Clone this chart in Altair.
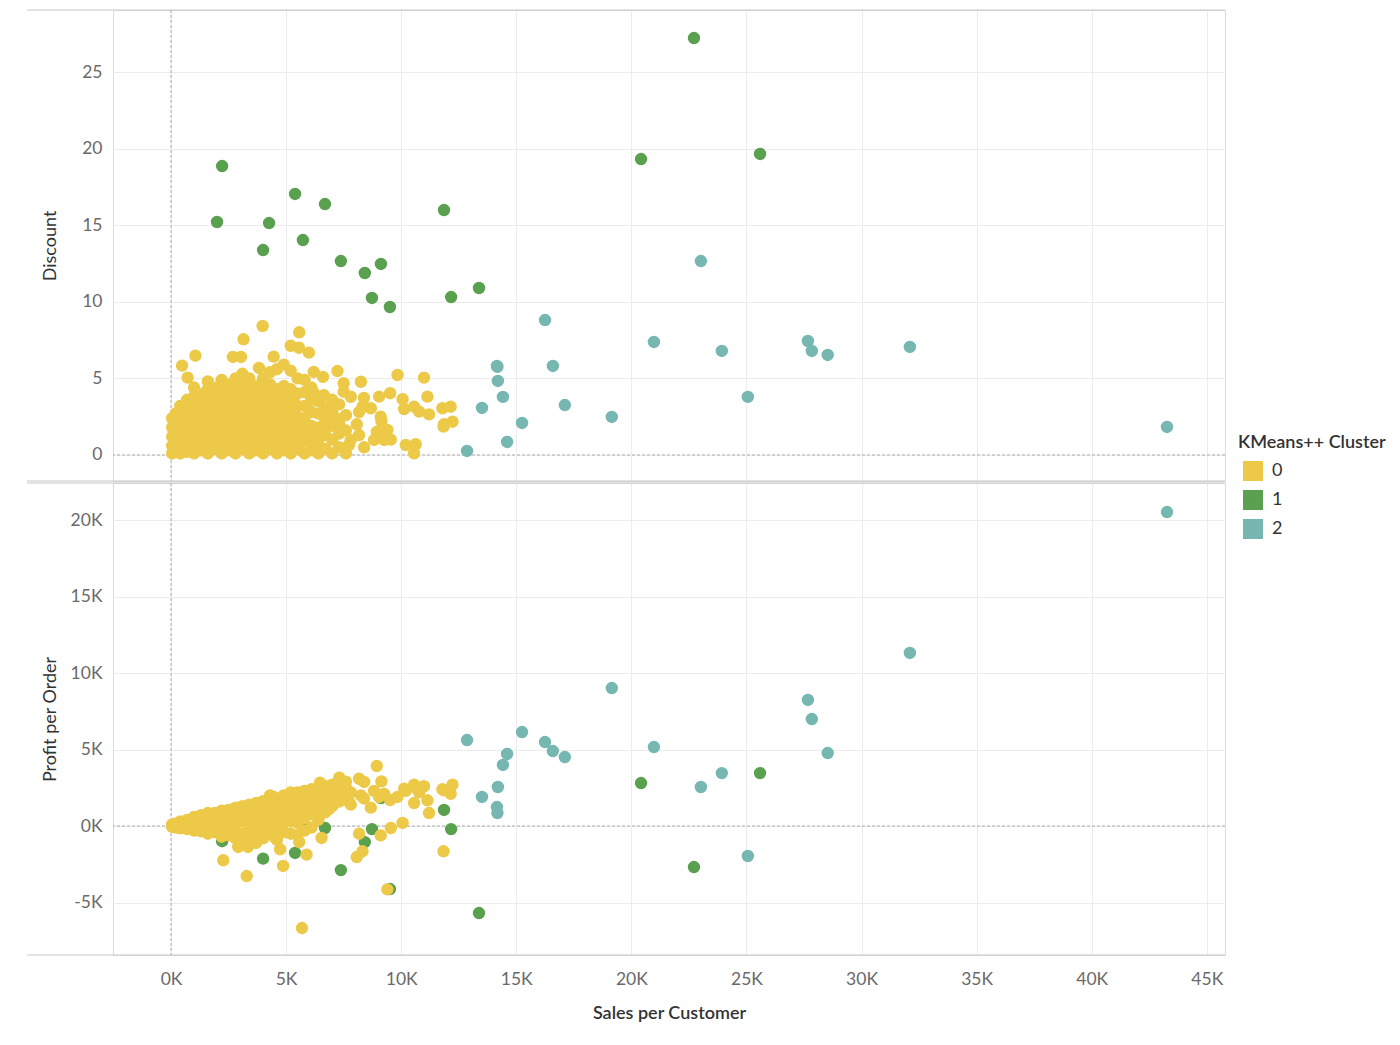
import altair as alt
import pandas as pd

# ---------------- data (Sales per Customer in K, Discount, Profit per Order in K) -------------
# Cluster 0 (yellow)
c0_sales = [
    0.05, 0.05, 0.05, 0.05, 0.05,
    0.2, 0.2, 0.2, 0.2, 0.2,
    0.4, 0.4, 0.4, 0.4, 0.4, 0.4,
    0.48, 0.72,
    0.7, 0.7, 0.7, 0.7, 0.7, 0.7,
    1.0, 1.0, 1.0, 1.0, 1.0, 1.0, 1.0, 1.0,
    1.06,
    1.3, 1.3, 1.3, 1.3, 1.3, 1.3,
    1.6, 1.6, 1.6, 1.6, 1.6, 1.6, 1.6, 1.6,
    1.9, 1.9, 1.9, 1.9, 1.9, 1.9,
    2.2, 2.2, 2.2, 2.2, 2.2, 2.2, 2.2, 2.2,
    2.5, 2.5, 2.5, 2.5, 2.5, 2.5, 2.5,
    2.69, 3.04, 3.15,
    2.8, 2.8, 2.8, 2.8, 2.8, 2.8, 2.8, 2.8,
    3.1, 3.1, 3.1, 3.1, 3.1, 3.1, 3.1, 3.1,
    3.4, 3.4, 3.4, 3.4, 3.4, 3.4, 3.4, 3.4,
    3.7, 3.7, 3.7, 3.7, 3.7, 3.7, 3.7,
    3.82, 3.98,
    4.0, 4.0, 4.0, 4.0, 4.0, 4.0, 4.0, 4.0,
    4.3, 4.3, 4.3, 4.3, 4.3, 4.3, 4.3, 4.3,
    4.46,
    4.6, 4.6, 4.6, 4.6, 4.6, 4.6, 4.6, 4.6,
    4.9, 4.9, 4.9, 4.9, 4.9, 4.9, 4.9, 4.9,
    5.2, 5.2, 5.2, 5.2, 5.2, 5.2, 5.2, 5.2, 5.2,
    5.5, 5.5, 5.5, 5.5, 5.5, 5.5, 5.5,
    5.56, 5.57,
    5.8, 5.8, 5.8, 5.8, 5.8, 5.8, 5.8,
    5.99,
    6.1, 6.1, 6.1, 6.1, 6.1, 6.1,
    6.2, 6.2,
    6.4, 6.4, 6.4, 6.4, 6.4,
    6.6, 6.64, 6.86,
    6.7, 6.7, 6.7, 6.7,
    7.0, 7.0, 7.0, 7.0, 7.0,
    7.08, 7.23,
    7.3, 7.3, 7.3, 7.3,
    7.5, 7.5,
    7.6, 7.6, 7.6,
    2.27, 2.92, 3.29, 3.34, 4.49, 4.74, 4.87, 5.57, 5.69, 5.89, 6.47, 6.54, 7.31,
    7.73, 7.81, 7.81, 8.07, 8.17, 8.17, 8.25, 8.32, 8.38, 8.39, 8.68, 8.82, 8.94,
    9.04, 9.11, 9.14, 9.26, 9.4, 9.52, 9.55, 9.84, 10.06, 10.13, 10.2, 10.56, 10.56,
    10.63, 10.78, 10.99, 11.14, 11.21, 11.79, 11.84, 11.86, 12.15, 12.23,
    0.55, 0.85, 1.15, 1.45, 1.75, 2.05, 2.35, 2.65, 2.95, 3.25, 3.55, 3.85, 4.15, 4.45,
    0.55, 0.85, 1.15, 1.45, 1.75, 2.05, 2.35, 2.65, 2.95, 3.25, 3.55, 3.85, 4.15, 4.45,
    4.75, 5.05, 5.35, 5.65, 5.95, 6.25,
]
c0_discount = [
    0.1, 0.6, 1.2, 1.8, 2.4,
    0.3, 0.9, 1.5, 2.1, 2.7,
    0.1, 0.8, 1.4, 2.0, 2.6, 3.2,
    5.83, 5.05,
    0.2, 0.9, 1.6, 2.3, 3.0, 3.6,
    0.1, 0.7, 1.3, 1.9, 2.5, 3.1, 3.8, 4.4,
    6.48,
    0.3, 1.0, 1.7, 2.4, 3.0, 3.7,
    0.1, 0.8, 1.5, 2.2, 2.9, 3.6, 4.3, 4.8,
    0.4, 1.1, 1.8, 2.5, 3.2, 3.9,
    0.1, 0.7, 1.4, 2.1, 2.8, 3.5, 4.2, 4.9,
    0.3, 1.0, 1.7, 2.4, 3.1, 3.8, 4.5,
    6.4, 6.4, 7.55,
    0.1, 0.8, 1.5, 2.2, 2.9, 3.6, 4.3, 5.0,
    0.4, 1.1, 1.8, 2.5, 3.2, 3.9, 4.6, 5.3,
    0.1, 0.8, 1.5, 2.2, 2.9, 3.6, 4.3, 5.0,
    0.3, 1.0, 1.7, 2.4, 3.1, 3.8, 4.5,
    5.68, 8.42,
    0.1, 0.8, 1.5, 2.2, 2.9, 3.6, 4.3, 5.0,
    0.4, 1.1, 1.8, 2.5, 3.2, 3.9, 4.6, 5.4,
    6.42,
    0.1, 0.8, 1.5, 2.2, 2.9, 3.6, 4.3, 5.6,
    0.3, 1.0, 1.7, 2.4, 3.1, 3.8, 4.5, 5.9,
    0.1, 0.8, 1.5, 2.2, 2.9, 3.6, 4.3, 5.5, 7.13,
    0.4, 1.1, 1.8, 2.5, 3.2, 4.0, 5.0,
    7.0, 8.01,
    0.1, 0.9, 1.6, 2.4, 3.2, 4.1, 4.9,
    6.68,
    0.3, 1.1, 1.9, 2.8, 3.6, 4.4,
    5.42, 4.05,
    0.1, 0.9, 1.8, 2.7, 3.5,
    5.1, 3.9, 2.41,
    0.4, 1.3, 2.2, 3.1,
    0.1, 1.0, 1.9, 2.9, 3.6,
    2.5, 5.48,
    0.5, 1.4, 2.3, 3.3,
    4.68, 4.13,
    0.1, 1.6, 2.6,
    1.4, 3.0, 0.8, 1.2, 2.5, 0.5, 2.0, 0.7, 1.2, 1.0, 1.5, 1.8, 2.0,
    0.65, 0.98, 3.8, 2.0, 1.3, 2.8, 4.78, 3.15, 3.72, 0.5, 3.05, 0.98, 1.5,
    3.81, 2.5, 2.2, 0.98, 1.63, 4.03, 1.0, 5.22, 3.64, 3.0, 0.65, 3.15, 0.11,
    0.7, 2.83, 5.05, 3.81, 2.65, 3.05, 1.85, 2.0, 3.15, 2.17,
    0.55, 1.25, 0.45, 1.95, 0.65, 2.65, 1.05, 3.35, 0.75, 1.85, 2.95, 0.55, 3.95, 1.45,
    2.05, 3.35, 2.75, 4.05, 2.35, 4.45, 3.75, 4.65, 4.15, 4.75, 0.65, 2.75, 1.25, 3.05,
    1.85, 2.65, 3.85, 2.25, 1.35, 0.55,
]
c0_profit = [
    0.0, 0.05, -0.05, 0.1, 0.0,
    0.1, 0.0, 0.15, -0.1, 0.05,
    0.2, 0.05, 0.25, -0.15, 0.1, 0.3,
    0.1, 0.25,
    0.3, -0.1, 0.4, 0.15, -0.2, 0.2,
    0.35, -0.2, 0.5, 0.1, 0.6, -0.3, 0.25, 0.45,
    0.3,
    0.55, 0.0, 0.7, -0.35, 0.3, 0.6,
    0.65, -0.25, 0.3, 0.75, 0.1, -0.5, 0.5, 0.85,
    0.7, 0.2, -0.4, 0.85, 0.45, 0.0,
    0.8, -0.5, 0.35, 0.9, 0.1, -0.7, 0.6, 1.0,
    0.95, 0.3, -0.6, 0.7, -0.2, 1.05, 0.5,
    0.8, 1.0, 0.7,
    1.1, -0.8, 0.4, 0.9, -0.3, 0.6, 1.2, 0.2,
    1.2, -0.5, 0.7, -1.0, 0.3, 1.0, 0.5, 1.3,
    0.9, 1.35, -0.9, 0.4, 1.1, -0.2, 0.7, 1.4,
    1.5, 0.6, -0.6, 1.2, 0.2, 0.9, -1.1,
    1.3, 1.6,
    1.6, 0.3, 1.1, -0.8, 0.8, 1.4, -0.3, 0.5,
    1.75, 0.9, -0.5, 1.3, 0.1, 1.6, 2.0, 0.6,
    1.9,
    1.4, -0.2, 1.8, 0.7, -0.9, 1.1, 0.3, 1.7,
    1.9, 0.5, 1.3, -0.4, 1.6, 0.9, 2.0, 0.2,
    2.1, 0.8, -0.5, 1.5, 0.3, 1.8, 1.1, 2.2, 1.2,
    1.7, 1.0, 2.2, 0.2, 1.4, -0.6, 0.7,
    1.5, 1.7,
    2.3, 1.2, 0.5, 1.8, -0.3, 1.5, 2.0,
    1.6,
    1.6, 2.4, 0.8, 1.9, -0.1, 1.2,
    2.0, 1.4,
    2.5, 1.0, 2.1, 0.4, 1.7,
    1.8, 2.3, 1.1,
    2.2, 1.5, 2.6, 0.9,
    2.0, 2.7, 1.3, 1.8, 2.4,
    1.5, 2.6,
    2.4, 1.6, 2.9, 2.0,
    2.2, 2.7,
    1.9, 2.5, 2.9,
    -2.24, -1.37, -3.27, -1.37, -0.72, -1.52, -2.61, -1.05, -6.67, -1.87, 2.83, -0.78, 3.16,
    1.6, 2.2, 1.4, -2.03, 3.09, -0.5, 2.0, -1.65, 1.8, 2.88, 1.2, 2.3, 3.92,
    1.9, -0.61, 2.92, 2.1, -4.14, 1.7, -0.13, 1.9, 0.2, 2.44, 2.3, 2.7, 1.5,
    2.5, 2.2, 2.6, 1.68, 0.85, 2.4, -1.65, 2.33, 2.11, 2.7,
    0.2, 0.35, 0.4, 0.55, 0.6, 0.7, 0.8, 0.85, 1.0, 1.05, 1.15, 1.25, 1.35, 1.45,
    0.05, 0.1, 0.2, 0.3, 0.35, 0.4, 0.5, 0.55, 0.65, 0.7, 0.8, 0.9, 1.0, 1.1,
    1.2, 1.3, 1.45, 1.55, 1.7, 1.85,
]

# Cluster 1 (green)
c1_sales = [22.72, 20.42, 25.59, 2.22, 2.0, 5.39, 4.26, 6.69, 5.73, 4.0,
            11.86, 7.38, 8.42, 9.12, 8.73, 9.51, 12.17, 13.38]
c1_discount = [27.22, 19.32, 19.65, 18.86, 15.21, 17.04, 15.14, 16.38, 14.03, 13.38,
               15.99, 12.66, 11.88, 12.47, 10.25, 9.66, 10.31, 10.90]
c1_profit = [-2.68, 2.81, 3.46, -0.99, -0.3, -1.76, -0.28, -0.13, 0.2, -2.13,
             1.05, -2.88, -1.05, 1.83, -0.2, -4.12, -0.2, -5.69]

# Cluster 2 (teal)
c2_sales = [43.27, 32.10, 28.53, 27.84, 27.67, 25.06, 23.93, 23.02, 20.98, 19.15,
            17.11, 16.59, 16.25, 15.25, 14.60, 14.42, 14.20, 14.16, 14.18, 13.51, 12.86]
c2_discount = [1.83, 7.05, 6.53, 6.79, 7.44, 3.79, 6.79, 12.66, 7.38, 2.48,
               3.26, 5.81, 8.81, 2.09, 0.85, 3.79, 4.83, 5.81, 5.75, 3.07, 0.26]
c2_profit = [20.52, 11.31, 4.77, 6.99, 8.24, -1.96, 3.46, 2.55, 5.16, 9.02,
             4.51, 4.90, 5.49, 6.14, 4.71, 3.99, 2.55, 1.24, 0.85, 1.90, 5.62]

cluster_names = ["0", "1", "2"]
cluster_colors = ["#EDC948", "#59A14F", "#76B7B2"]
x_ticks = [0, 5, 10, 15, 20, 25, 30, 35, 40, 45]
disc_ticks = [0, 5, 10, 15, 20, 25]
profit_ticks = [-5, 0, 5, 10, 15, 20]

frames = []
for name, s, d, p in [("1", c1_sales, c1_discount, c1_profit),
                      ("2", c2_sales, c2_discount, c2_profit),
                      ("0", c0_sales, c0_discount, c0_profit)]:
    frames.append(pd.DataFrame({"sales": s, "discount": d, "profit": p, "cluster": name}))
df = pd.concat(frames, ignore_index=True)
df["order"] = range(len(df))

W = 1112
H1 = 471
H2 = 472
FONT = "Lato"
LABEL_COLOR = "#6a6a6a"
TITLE_COLOR = "#333333"
GRID = "#ececec"
BORDER = "#d0d0d0"
ZERO = "#ababab"
TICK_FS = 17.5
TITLE_FS = 18

x_scale = alt.Scale(domain=[-2.52, 45.79], nice=False, zero=False)

color = alt.Color(
    "cluster:N",
    scale=alt.Scale(domain=cluster_names, range=cluster_colors),
    legend=alt.Legend(
        title="KMeans++ Cluster",
        orient="none",
        legendX=1125,
        legendY=424,
        symbolType="square",
        symbolSize=400,
        symbolStrokeWidth=0,
        symbolOpacity=1,
        symbolOffset=5,
        labelFontSize=TITLE_FS,
        labelColor=TITLE_COLOR,
        labelFont=FONT,
        titleFont=FONT,
        titleFontSize=TITLE_FS,
        titleFontWeight=600,
        titleColor=TITLE_COLOR,
        titlePadding=9,
        rowPadding=9,
        labelOffset=9,
    ),
)


def panel(field, title, ticks, domain, height, show_x):
    base = alt.Chart(df)
    if show_x:
        x_axis = alt.Axis(
            values=x_ticks, labelExpr="datum.value + 'K'", grid=True, gridColor=GRID,
            ticks=False, tickSize=0, domain=False, labelPadding=15, labelFontSize=TICK_FS,
            labelColor=LABEL_COLOR, labelFont=FONT, title="Sales per Customer",
            titleFontSize=TITLE_FS, titleFont=FONT, titleFontWeight=600,
            titleColor=TITLE_COLOR, titlePadding=17,
        )
    else:
        x_axis = alt.Axis(values=x_ticks, grid=True, gridColor=GRID, labels=False,
                          ticks=False, tickSize=0, labelPadding=0, domain=False,
                          title=None, minExtent=0, maxExtent=0)
    if field == "profit":
        lab = "datum.value + 'K'"
    else:
        lab = "datum.value + ''"
    y_axis = alt.Axis(
        values=ticks, labelExpr=lab, grid=True, gridColor=GRID, ticks=False, tickSize=0,
        domain=False, labelPadding=11, labelFontSize=TICK_FS, labelColor=LABEL_COLOR,
        labelFont=FONT, title=title, titleFontSize=TITLE_FS, titleFont=FONT,
        titleFontWeight="normal", titleColor=TITLE_COLOR, titleX=-63, titleY=height / 2,
        titleBaseline="middle", titleAngle=270,
    )
    pts = base.mark_circle(size=154, opacity=1).encode(
        x=alt.X("sales:Q", scale=x_scale, axis=x_axis),
        y=alt.Y(f"{field}:Q", scale=alt.Scale(domain=domain, nice=False, zero=False), axis=y_axis),
        color=color,
        order=alt.Order("order:Q"),
    )
    zero_h = alt.Chart(pd.DataFrame({"v": [0]})).mark_rule(
        color=ZERO, strokeDash=[3, 2], strokeWidth=1
    ).encode(y=alt.Y("v:Q"))
    zero_v = alt.Chart(pd.DataFrame({"v": [0]})).mark_rule(
        color=ZERO, strokeDash=[3, 2], strokeWidth=1
    ).encode(x=alt.X("v:Q"))
    top_line = alt.Chart(pd.DataFrame({"v": [0]})).mark_rule(
        color="#c8c8c8", strokeWidth=1.2, clip=False
    ).encode(x=alt.value(-86), x2=alt.value(W), y=alt.value(0))
    bottom_line = alt.Chart(pd.DataFrame({"v": [0]})).mark_rule(
        color="#c8c8c8", strokeWidth=1.2, clip=False
    ).encode(x=alt.value(-86), x2=alt.value(W), y=alt.value(height))
    return alt.layer(zero_h, zero_v, pts, top_line, bottom_line).properties(width=W, height=height)


top = panel("discount", "Discount", disc_ticks, [-1.70, 29.05], H1, False)
bottom = panel("profit", "Profit per Order", profit_ticks, [-8.43, 22.42], H2, True)

chart = alt.vconcat(top, bottom, spacing=-4).properties(
    padding={"left": 17, "top": 0, "right": 5, "bottom": 5}
).configure_view(stroke=BORDER, strokeWidth=1).configure(font=FONT)

chart.save("out.html", embed_options={"renderer": "svg", "actions": False})
